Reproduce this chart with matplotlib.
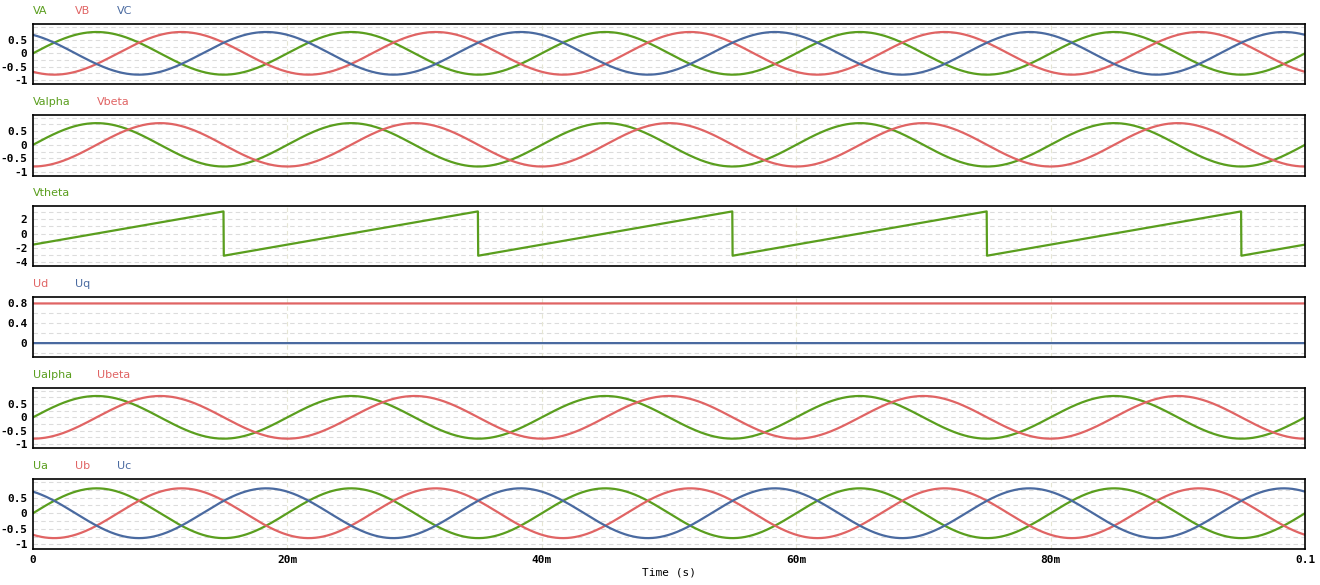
import numpy as np
import matplotlib.pyplot as plt
from matplotlib.transforms import offset_copy

# signal parameters
freq = 50.0            # Hz, one period = 20 ms
amp = 0.8              # peak of the phase voltages
t_end = 0.1
ud_level = 0.8
uq_level = 0.0
phase_abc = [0.0, -2*np.pi/3, 2*np.pi/3]   # VA, VB, VC
phase_ab = [0.0, -np.pi/2]                 # alpha, beta

GREEN = '#5a9e1e'
RED = '#e06464'
BLUE = '#4a6aa0'

t = np.linspace(0, t_end, 4001)
w = 2*np.pi*freq*t
abc = [amp*np.sin(w+p) for p in phase_abc]
ab = [amp*np.sin(w+p) for p in phase_ab]
theta = np.angle(np.exp(1j*(w-np.pi/2)))

panels = [
    (['VA', 'VB', 'VC'], abc, [GREEN, RED, BLUE], (-1.15, 1.1), [-1, -0.5, 0, 0.5], np.arange(-1, 1.01, 0.25)),
    (['Valpha', 'Vbeta'], ab, [GREEN, RED], (-1.15, 1.1), [-1, -0.5, 0, 0.5], np.arange(-1, 1.01, 0.25)),
    (['Vtheta'], [theta], [GREEN], (-4.6, 3.9), [-4, -2, 0, 2], np.arange(-4, 3.1, 1)),
    (['Ud', 'Uq'], [np.full_like(t, ud_level), np.full_like(t, uq_level)], [RED, BLUE], (-0.28, 0.93), [0, 0.4, 0.8], np.arange(-0.2, 0.81, 0.2)),
    (['Ualpha', 'Ubeta'], ab, [GREEN, RED], (-1.15, 1.1), [-1, -0.5, 0, 0.5], np.arange(-1, 1.01, 0.25)),
    (['Ua', 'Ub', 'Uc'], abc, [GREEN, RED, BLUE], (-1.15, 1.1), [-1, -0.5, 0, 0.5], np.arange(-1, 1.01, 0.25)),
]
rows_px = [(24, 84), (115, 176), (206, 266), (297, 357), (388, 448), (479, 549)]

W, H = 1320, 585
fig = plt.figure(figsize=(W/100, H/100), dpi=100)
mono = {'family': 'DejaVu Sans Mono', 'weight': 'bold', 'size': 8}

for (names, series, cols, ylim, yt, grid), (top, bot) in zip(panels, rows_px):
    ax = fig.add_axes([33/W, 1-bot/H, (1305-33)/W, (bot-top)/H])
    for yv in grid:
        ax.axhline(yv, color='#dcdcdc', lw=0.8, ls=(0, (4, 3)), zorder=0)
    for xv in [0.02, 0.04, 0.06, 0.08]:
        ax.axvline(xv, color='#e6e6d4', lw=0.8, ls=(0, (4, 3)), zorder=0)
    for s, c in zip(series, cols):
        ax.plot(t, s, color=c, lw=1.6)
    ax.set_xlim(0, t_end)
    ax.set_ylim(*ylim)
    ax.set_yticks(yt)
    ax.set_yticklabels([('%g' % v) for v in yt], fontdict=mono)
    ax.tick_params(axis='y', length=0, pad=4)
    for sp in ax.spines.values():
        sp.set_linewidth(1.2)
    x = 0
    for n, c in zip(names, cols):
        tr = offset_copy(ax.transAxes, fig=fig, x=x, y=9.5, units='points')
        ax.text(0, 1, n, color=c, transform=tr, fontsize=8, va='center')
        x += (5.5*len(n)+31)*0.72
    if bot == 549:
        ax.set_xticks([0, 0.02, 0.04, 0.06, 0.08, 0.1])
        ax.set_xticklabels(['0', '20m', '40m', '60m', '80m', '0.1'], fontdict=mono)
        ax.tick_params(axis='x', length=0, pad=4)
        ax.set_xlabel('Time (s)', fontsize=8, labelpad=2, family='DejaVu Sans Mono')
    else:
        ax.set_xticks([])

fig.savefig('out.png', dpi=100)
